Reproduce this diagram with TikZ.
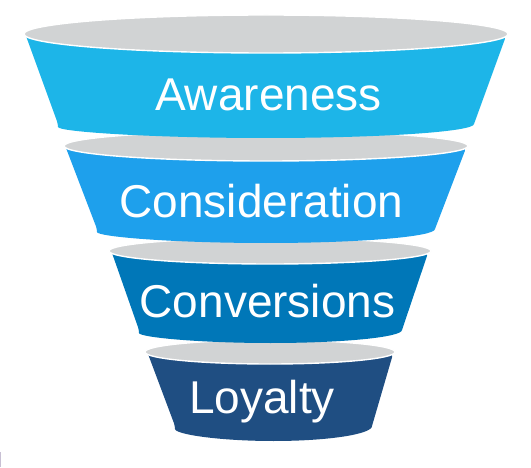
\documentclass[tikz,border=0pt]{standalone}
\usepackage{fontspec}
\setmainfont{Liberation Sans}
\definecolor{rimgray}{HTML}{D1D3D4}
\definecolor{cAware}{HTML}{1DB5E8}
\definecolor{cConsid}{HTML}{1EA0EC}
\definecolor{cConv}{HTML}{0077B8}
\definecolor{cLoyal}{HTML}{1F4E82}
\definecolor{edgemark}{HTML}{C8C0D4}
\tikzset{
  rim/.style={fill=rimgray, draw=white, line width=1.4pt},
  body/.style={rounded corners=3pt},
  label/.style={text=white, font=\fontsize{46}{46}\selectfont, anchor=base, inner sep=0pt}
}
\begin{document}
\begin{tikzpicture}[x=1pt,y=1pt]
\useasboundingbox (0,0) rectangle (531,467);
% helper: Y = 467 - ypx
% Segment 4 (Loyalty)
\fill[cLoyal, body] (148,113) -- (175,41) [sharp corners] arc[start angle=180, end angle=360, x radius=98.5, y radius=15] [rounded corners=3pt] -- (393,113) [sharp corners] -- cycle;
\path[rim] (270,115) ellipse [x radius=125, y radius=12];
% Segment 3 (Conversions)
\fill[cConv, body] (112,214) -- (139,137) [sharp corners] arc[start angle=180, end angle=360, x radius=131.5, y radius=13] [rounded corners=3pt] -- (428,214) [sharp corners] -- cycle;
\path[rim] (270,216) ellipse [x radius=161, y radius=13];
% Segment 2 (Consideration)
\fill[cConsid, body] (66,319) -- (97,238) [sharp corners] arc[start angle=180, end angle=360, x radius=169, y radius=14] [rounded corners=3pt] -- (466,319) [sharp corners] -- cycle;
\path[rim] (266,321) ellipse [x radius=202, y radius=15];
% Segment 1 (Awareness)
\fill[cAware, body] (26,431) -- (58,343) [sharp corners] arc[start angle=180, end angle=360, x radius=208, y radius=14] [rounded corners=3pt] -- (506,431) [sharp corners] -- cycle;
\path[rim] (266,433) ellipse [x radius=242, y radius=19];
% labels
\node[label] (aware) at (268.5,356) {Awareness};
\node[label] (consid) at (261.5,249) {Consideration};
\node[label] (conv) at (267.5,150) {Conversions};
\node[label] (loyal) at (262,54) {Loyalty};
% edge artifact
\fill[edgemark] (0,0) rectangle (1.2,15);
\end{tikzpicture}
\end{document}
